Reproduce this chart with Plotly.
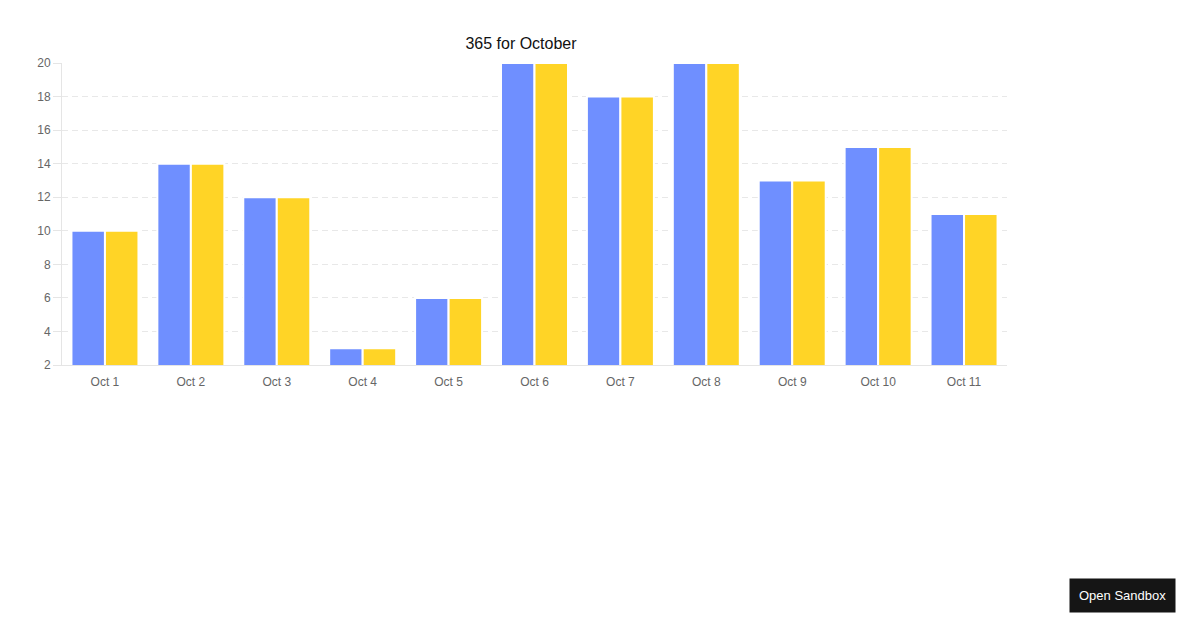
import plotly.graph_objects as go

days = ['Oct 1', 'Oct 2', 'Oct 3', 'Oct 4', 'Oct 5', 'Oct 6', 'Oct 7', 'Oct 8', 'Oct 9', 'Oct 10', 'Oct 11']
series_a = [10, 14, 12, 3, 6, 20, 18, 20, 13, 15, 11]
series_b = [10, 14, 12, 3, 6, 20, 18, 20, 13, 15, 11]

fig = go.Figure()
fig.add_bar(x=days, y=series_a, marker=dict(color='#6f8fff', line=dict(color='white', width=2)))
fig.add_bar(x=days, y=series_b, marker=dict(color='#ffd426', line=dict(color='white', width=2)))

fig.update_layout(
    width=1200, height=630,
    margin=dict(l=54, r=201, t=55, b=273),
    paper_bgcolor='white', plot_bgcolor='white',
    showlegend=False,
    barmode='group', bargap=0.22, bargroupgap=0.0,
    font=dict(family='Liberation Sans, Arial', size=12, color='#666'),
    title=dict(text='365 for October', x=0.4275, xanchor='center', y=0.944, yanchor='middle',
               font=dict(size=16, color='#111')),
    xaxis=dict(showline=True, linecolor='#e5e5e5', ticks='', ticklabelstandoff=6),
    yaxis=dict(range=[2, 20], dtick=2, showline=True, linecolor='#e5e5e5',
               gridcolor='#e8e8e8', griddash='6px,4px', ticks='outside', ticklen=8,
               tickcolor='#e5e5e5', tickfont=dict(size=12)),
    annotations=[dict(text='Open Sandbox', xref='paper', yref='paper', x=1.179, y=-0.762,
                      xanchor='right', yanchor='middle', showarrow=False,
                      font=dict(size=13, color='white'), bgcolor='#151515',
                      borderpad=9)],
)
fig.write_html('out.html')
